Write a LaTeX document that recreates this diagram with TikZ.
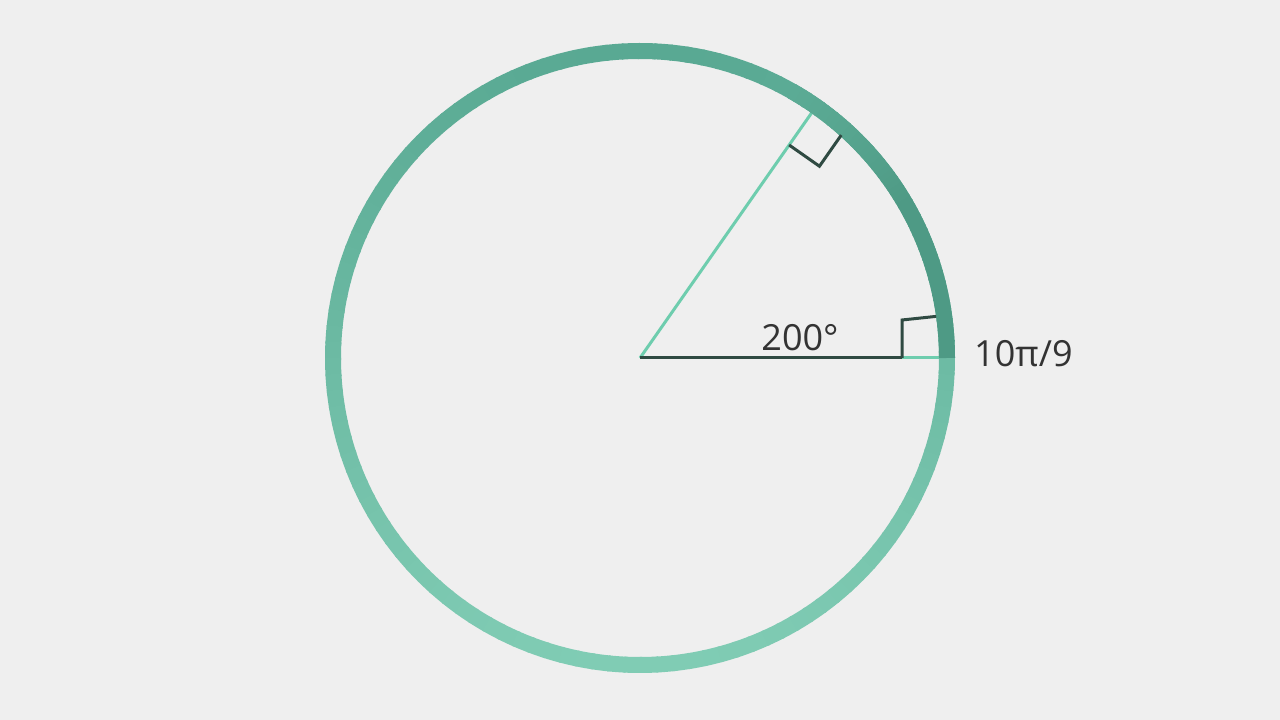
\documentclass[tikz,border=0pt]{standalone}
\usepackage{fontspec}
\setmainfont{Open Sans}
\usetikzlibrary{calc}
\definecolor{bg}{HTML}{EFEFEF}
\definecolor{ctop}{HTML}{59A993}
\definecolor{cbot}{HTML}{80CCB4}
\definecolor{carc}{HTML}{4E9A85}
\definecolor{clight}{HTML}{6ECDAE}
\definecolor{cdark}{HTML}{2F4A42}
\definecolor{ctext}{HTML}{333333}
\tikzset{
  lightline/.style={clight, line width=3},
  darkline/.style={cdark, line width=3, line join=miter},
  lbl/.style={text=ctext, font=\fontsize{36}{40}\selectfont, inner sep=0pt}
}
\begin{document}
\begin{tikzpicture}[x=1pt,y=1pt]
\fill[bg] (0,0) rectangle (1280,720);
\useasboundingbox (0,0) rectangle (1280,720);
\coordinate (C) at (640,362);
\coordinate (R) at ($(C)+(55:305)$);
\coordinate (E) at ($(C)+(305,0)$);
\coordinate (H) at ($(C)+(262,0)$);
\draw[lightline] (C) -- (R);
\draw[lightline] (C) -- (E);
\draw[darkline] (C) -- (H);
% circle with vertical gradient
\foreach \a in {0,3,...,357} {
  \pgfmathsetmacro\p{50-50*sin(\a+1.5)}
  \draw[line width=16, color=cbot!\p!ctop] ($(C)+(\a:307)$) arc[start angle=\a, end angle=\a+3.4, radius=307];
}
% darker arc, fading out towards its upper end
\foreach \a in {0,1,...,59} {
  \pgfmathsetmacro\p{50-50*sin(\a+0.5)}
  \pgfmathsetmacro\r{\a<30 ? 0 : min(100,(\a-30)*100/30)}
  \draw[line width=16, color=cbot!\p!ctop!\r!carc] ($(C)+(\a:307)$) arc[start angle=\a, end angle=\a+1.3, radius=307];
}
% right-angle marks
\coordinate (P1) at ($(C)+(55:260)$);
\coordinate (P2) at ($(P1)+(-35:37)$);
\coordinate (P3) at ($(P2)+(55:38)$);
\draw[darkline] (P1) -- (P2) -- (P3);
\coordinate (Q2) at ($(H)+(0,38)$);
\coordinate (Q3) at ($(C)+(8:299)$);
\draw[darkline] (H) -- (Q2) -- (Q3);
% labels
\node[lbl, anchor=base] (deg) at (800,369) {200°};
\node[lbl, anchor=base west] (rad) at (974,353) {10π/9};
\end{tikzpicture}
\end{document}
